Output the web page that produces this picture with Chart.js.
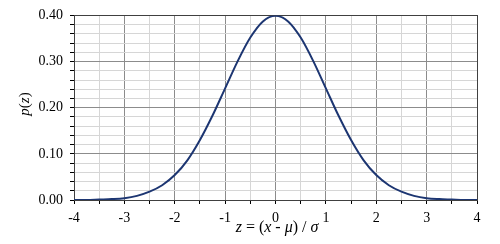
<!DOCTYPE html>
<html lang="en">
<head>
  <meta charset="UTF-8">
  <title>Standard normal density</title>
  <style>
    html, body { margin: 0; padding: 0; background: #fff; }
    #wrap { width: 500px; height: 244px; position: relative; }
  </style>
</head>
<body>
  <div id="wrap"><canvas id="myChart" width="500" height="244"></canvas></div>

  <script src="https://cdn.jsdelivr.net/npm/chart.js"></script>
  <script>
    // values
    const zValues = [-4, -3.75, -3.5, -3.25, -3, -2.75, -2.5, -2.25, -2, -1.75, -1.5, -1.25, -1, -0.75, -0.5, -0.25,
                     0, 0.25, 0.5, 0.75, 1, 1.25, 1.5, 1.75, 2, 2.25, 2.5, 2.75, 3, 3.25, 3.5, 3.75, 4];
    const pValues = [0.000, 0.000, 0.001, 0.002, 0.004, 0.009, 0.018, 0.032, 0.054, 0.086, 0.130, 0.183, 0.242, 0.301, 0.352, 0.387,
                     0.399, 0.387, 0.352, 0.301, 0.242, 0.183, 0.130, 0.086, 0.054, 0.032, 0.018, 0.009, 0.004, 0.002, 0.001, 0.000, 0.000];
    const yTickLabels = ['0.00', '0.10', '0.20', '0.30', '0.40'];
    const xTickLabels = ['-4', '-3', '-2', '-1', '0', '1', '2', '3', '4'];

    const serif = '"Liberation Serif", "Times New Roman", serif';
    const darkGrid = '#8c8c8c';
    const lightGrid = '#d6d6d6';

    function drawRuns(ctx, runs, x, y, size) {
      let cx = x;
      runs.forEach(r => {
        ctx.font = (r[1] ? 'italic ' : '') + size + 'px ' + serif;
        ctx.fillText(r[0], cx, y);
        cx += ctx.measureText(r[0]).width;
      });
    }
    function runsWidth(ctx, runs, size) {
      let w = 0;
      runs.forEach(r => {
        ctx.font = (r[1] ? 'italic ' : '') + size + 'px ' + serif;
        w += ctx.measureText(r[0]).width;
      });
      return w;
    }

    const frameAndTitles = {
      id: 'frameAndTitles',
      beforeDatasetsDraw(chart) {
        const a = chart.chartArea, ctx = chart.ctx;
        ctx.save();
        ctx.strokeStyle = '#404040';
        ctx.lineWidth = 1;
        ctx.strokeRect(Math.round(a.left) + 0.5, Math.round(a.top) + 0.5,
                       Math.round(a.right - a.left), Math.round(a.bottom - a.top));
        ctx.restore();
      },
      afterDraw(chart) {
        const ctx = chart.ctx;
        ctx.save();
        ctx.fillStyle = '#000';
        ctx.textBaseline = 'alphabetic';
        const xRuns = [['z', true], [' = (', false], ['x', true], [' - ', false], ['\u03bc', true], [') / ', false], ['\u03c3', true]];
        const w = runsWidth(ctx, xRuns, 16);
        drawRuns(ctx, xRuns, 277 - w / 2, 232, 16);
        const yRuns = [['p', true], ['(', false], ['z', true], [')', false]];
        const wy = runsWidth(ctx, yRuns, 15);
        ctx.translate(29, 104);
        ctx.rotate(-Math.PI / 2);
        drawRuns(ctx, yRuns, -wy / 2, 0, 15);
        ctx.restore();
      }
    };

    const ctx = document.getElementById('myChart').getContext('2d');
    new Chart(ctx, {
      type: 'line',
      data: {
        datasets: [{
          data: zValues.map((z, i) => ({ x: z, y: pValues[i] })),
          borderColor: '#1d3672',
          borderWidth: 2,
          pointRadius: 0,
          fill: false,
          cubicInterpolationMode: 'monotone'
        }]
      },
      options: {
        responsive: false,
        animation: false,
        layout: { padding: { left: 0, right: 23, top: 10, bottom: 0 } },
        plugins: { legend: { display: false }, tooltip: { enabled: false } },
        scales: {
          x: {
            type: 'linear', min: -4, max: 4,
            afterFit(scale) { scale.height = 44; },
            ticks: {
              stepSize: 0.5, autoSkip: false, maxRotation: 0, padding: 6, color: '#000',
              font: { family: serif, size: 14 },
              callback: v => Number.isInteger(v) ? xTickLabels[v + 4] : ''
            },
            grid: {
              color: c => Number.isInteger(c.tick.value) ? darkGrid : lightGrid,
              tickColor: '#000', tickLength: 4
            },
            border: { color: '#000' }
          },
          y: {
            min: 0, max: 0.4,
            afterFit(scale) { scale.width = 74; },
            ticks: {
              stepSize: 0.02, autoSkip: false, padding: 7, color: '#000',
              font: { family: serif, size: 14 },
              callback: v => {
                const k = Math.round(v * 100);
                return k % 10 === 0 ? yTickLabels[k / 10] : '';
              }
            },
            grid: {
              color: c => Math.round(c.tick.value * 100) % 10 === 0 ? darkGrid : lightGrid,
              tickColor: '#000', tickLength: 4
            },
            border: { color: '#000' }
          }
        }
      },
      plugins: [frameAndTitles]
    });
  </script>
</body>
</html>
